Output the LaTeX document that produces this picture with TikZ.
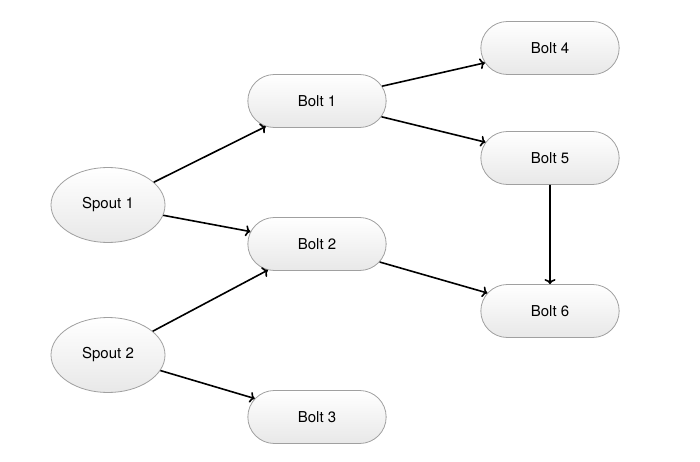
\documentclass[tikz,border=0pt]{standalone}
\usepackage{fontspec}
\setmainfont{TeX Gyre Heros}
\usetikzlibrary{shapes.geometric,shapes.misc,arrows.meta}
\definecolor{rim}{HTML}{A0A0A0}
\definecolor{shade}{HTML}{E8E8E8}
\tikzset{
SPOUT/.style ={ellipse,draw=rim,line width=0.8pt,top color=white,bottom color=shade,minimum width=114,minimum height=75,font=\fontsize{15}{18}\selectfont},
BOLT/.style ={rounded rectangle,draw=rim,line width=0.8pt,top color=white,bottom color=shade,minimum width=145,minimum height=53,font=\fontsize{15}{18}\selectfont},
FLOW/.style ={draw=black,line width=1.6pt,-{To[length=5pt,width=11pt]}},
}
\begin{document}
\begin{tikzpicture}
[x=1pt,y=-1pt]
	\useasboundingbox (0,0) rectangle (700,462); %Page
	%Spouts
	\node[SPOUT] (spout1) at (108,205) {Spout 1};
	\node[SPOUT] (spout2) at (108,355) {Spout 2};
	%Bolts
	\node[BOLT] (bolt1) at (317,101) {Bolt 1};
	\node[BOLT] (bolt2) at (317,244) {Bolt 2};
	\node[BOLT] (bolt3) at (317,417) {Bolt 3};
	\node[BOLT] (bolt4) at (550,48) {Bolt 4};
	\node[BOLT] (bolt5) at (550,158) {Bolt 5};
	\node[BOLT] (bolt6) at (550,311) {Bolt 6};
	%Streams
	\draw[FLOW] (spout1) -- (bolt1);
	\draw[FLOW] (spout1) -- (bolt2);
	\draw[FLOW] (spout2) -- (bolt2);
	\draw[FLOW] (spout2) -- (bolt3);
	\draw[FLOW] (bolt1) -- (bolt4);
	\draw[FLOW] (bolt1) -- (bolt5);
	\draw[FLOW] (bolt2) -- (bolt6);
	\draw[FLOW] (bolt5) -- (bolt6);
\end{tikzpicture}
\end{document}
